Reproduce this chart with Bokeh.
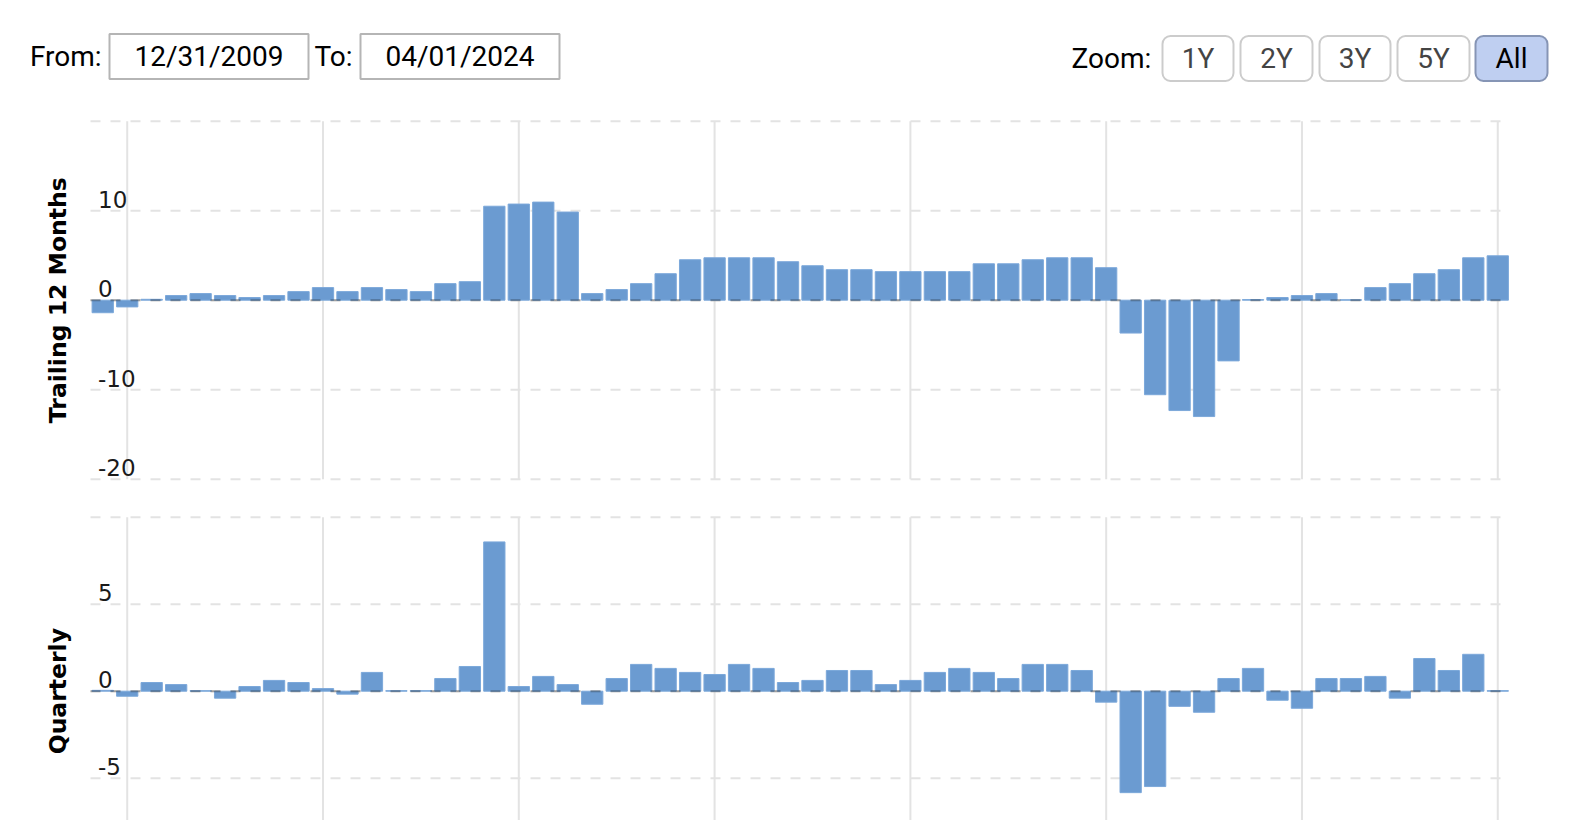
import math
from bokeh.plotting import figure
from bokeh.layouts import column
from bokeh.models import Range1d, ColumnDataSource
from bokeh.core.properties import value
from bokeh.embed import file_html
from bokeh.resources import INLINE

# ---------------- data ----------------
quarters = [
    "2009-12-31",
    "2010-03-31", "2010-06-30", "2010-09-30", "2010-12-31",
    "2011-03-31", "2011-06-30", "2011-09-30", "2011-12-31",
    "2012-03-31", "2012-06-30", "2012-09-30", "2012-12-31",
    "2013-03-31", "2013-06-30", "2013-09-30", "2013-12-31",
    "2014-03-31", "2014-06-30", "2014-09-30", "2014-12-31",
    "2015-03-31", "2015-06-30", "2015-09-30", "2015-12-31",
    "2016-03-31", "2016-06-30", "2016-09-30", "2016-12-31",
    "2017-03-31", "2017-06-30", "2017-09-30", "2017-12-31",
    "2018-03-31", "2018-06-30", "2018-09-30", "2018-12-31",
    "2019-03-31", "2019-06-30", "2019-09-30", "2019-12-31",
    "2020-03-31", "2020-06-30", "2020-09-30", "2020-12-31",
    "2021-03-31", "2021-06-30", "2021-09-30", "2021-12-31",
    "2022-03-31", "2022-06-30", "2022-09-30", "2022-12-31",
    "2023-03-31", "2023-06-30", "2023-09-30", "2023-12-31",
    "2024-03-31",
]

ttm_values = [
    -1.40, -0.75, 0.10, 0.52, 0.74, 0.52, 0.30, 0.52, 0.96, 1.41,
    0.96, 1.41, 1.19, 0.96, 1.85, 2.07, 10.50, 10.74, 10.96, 9.85,
    0.74, 1.19, 1.85, 2.96, 4.52, 4.74, 4.74, 4.74, 4.30, 3.85,
    3.41, 3.41, 3.19, 3.19, 3.19, 3.19, 4.07, 4.07, 4.52, 4.74,
    4.74, 3.63, -3.67, -10.56, -12.33, -13.00, -6.78, 0.07, 0.30, 0.52,
    0.74, 0.05, 1.41, 1.85, 2.96, 3.41, 4.74, 4.96,
]

quarterly_values = [
    0.05, -0.29, 0.50, 0.38, 0.03, -0.40, 0.27, 0.62, 0.50, 0.15,
    -0.17, 1.08, 0.03, 0.03, 0.73, 1.42, 8.58, 0.27, 0.85, 0.38,
    -0.75, 0.73, 1.54, 1.31, 1.08, 0.96, 1.54, 1.31, 0.50, 0.62,
    1.19, 1.19, 0.38, 0.62, 1.08, 1.31, 1.08, 0.73, 1.54, 1.54,
    1.19, -0.63, -5.83, -5.48, -0.87, -1.21, 0.73, 1.31, -0.52, -0.98,
    0.73, 0.73, 0.85, -0.40, 1.88, 1.19, 2.12, 0.03,
]

ttm_ticks = [-20, -10, 0, 10, 20]
ttm_labels = ["-20", "-10", "0", "10"]
q_ticks = [-10, -5, 0, 5, 10]
q_labels = ["-5", "0", "5"]

from_date = "12/31/2009"
to_date = "04/01/2024"
zoom_buttons = ["1Y", "2Y", "3Y", "5Y", "All"]

# ---------------- styles / layout (pixels) ----------------
W = 1580
BAR_FILL = "#6b9bd1"
BAR_LINE = "#7ca8da"
GRID = "#e3e3e3"
LABEL_FONT = "DejaVu Sans"
HEAD_FONT = "Roboto"

PLOT_LEFT = 90.0      # page x of the plot area's left edge
PLOT_W = 1419.5       # plot area width
n = len(quarters)
PITCH = PLOT_W / n
X0 = -0.5 - PLOT_LEFT / PITCH
X1 = X0 + W / PITCH


def px2x(px):
    return X0 + px / PITCH


idx = list(range(n))
x_grid_ticks = [i for i, q in enumerate(quarters) if q.endswith("-03-31") and int(q[:4]) % 2 == 0]

# ---------------- header ----------------
H0 = 100
hdr = figure(width=W, height=H0, x_range=Range1d(0, W), y_range=Range1d(H0, 0),
             toolbar_location=None, output_backend="svg",
             x_axis_location=None, y_axis_location=None, min_border=0)
hdr.grid.visible = False
hdr.outline_line_color = None

hdr.quad(left=[109, 360], right=[308, 559], top=[33.5, 33.5], bottom=[78.5, 78.5],
         fill_color="white", line_color="#b5b5b5", line_width=2)
hdr.text(x=[29.5, 314], y=[56, 56], text=["From:", "To:"], text_font=value(HEAD_FONT),
         text_font_size="28px", text_baseline="middle", text_align="left", text_color="#000000")
hdr.text(x=[208.5, 459.5], y=[56, 56], text=[from_date, to_date], text_font=value(HEAD_FONT),
         text_font_size="28px", text_baseline="middle", text_align="center", text_color="#000000")

btn_left = [1162, 1240, 1319, 1397, 1475]
btn_right = [1233, 1312, 1390, 1469, 1547]
btn_fill = ["white"] * 4 + ["#bfcff1"]
btn_line = ["#cccccc"] * 4 + ["#8695b5"]
btn_text_color = ["#444444"] * 4 + ["#000000"]
hdr.quad(left=btn_left, right=btn_right, top=[35.5] * 5, bottom=[80.5] * 5,
         fill_color=btn_fill, line_color=btn_line, line_width=2, border_radius=8)
hdr.text(x=[(a + b) / 2 for a, b in zip(btn_left, btn_right)], y=[58] * 5, text=zoom_buttons,
         text_font=value(HEAD_FONT), text_font_size="28px", text_baseline="middle",
         text_align="center", text_color=btn_text_color)
hdr.text(x=[1071], y=[58], text=["Zoom:"], text_font=value(HEAD_FONT), text_font_size="28px",
         text_baseline="middle", text_align="left", text_color="#000000")


def panel(values, fig_top, fig_bottom, ymax_px, ymin_px, ymax, ymin, ticks, labels, title):
    ppu = (ymin_px - ymax_px) / (ymax - ymin)
    y_top = ymax + (ymax_px - fig_top) / ppu
    y_bot = ymin - (fig_bottom - ymin_px) / ppu
    p = figure(width=W, height=int(fig_bottom - fig_top),
               x_range=Range1d(X0, X1), y_range=Range1d(y_bot, y_top),
               toolbar_location=None, output_backend="svg",
               x_axis_location=None, y_axis_location=None, min_border=0)
    p.outline_line_color = None
    p.grid.visible = False

    # grid lines limited to the plot area
    p.segment(x0=x_grid_ticks, x1=x_grid_ticks, y0=[ymin] * len(x_grid_ticks),
              y1=[ymax] * len(x_grid_ticks), line_color=GRID, line_width=2)
    p.segment(x0=[-0.5] * len(ticks), x1=[n - 0.5] * len(ticks), y0=ticks, y1=ticks,
              line_color=GRID, line_width=2, line_dash="10 10")

    src = ColumnDataSource(dict(x=idx, top=values, quarter=quarters))
    p.vbar(x="x", top="top", bottom=0, width=0.87, source=src,
           fill_color=BAR_FILL, line_color=BAR_LINE, line_width=1)

    # zero line above the bars
    p.segment(x0=[-0.5], x1=[n - 0.5], y0=[0], y1=[0], line_color="black", line_alpha=0.3,
              line_width=2, line_dash="10 10")

    p.text(x=[px2x(97.5)] * len(labels), y=[float(v) for v in labels], text=labels,
           text_baseline="bottom", text_align="left", y_offset=-3,
           text_font=value(LABEL_FONT), text_font_size="23px", text_color="#1a1a1a")
    p.text(x=[px2x(57.5)], y=[(ymax + ymin) / 2], text=[title], angle=math.pi / 2,
           text_align="center", text_baseline="middle", text_font=value(LABEL_FONT),
           text_font_style="bold", text_font_size="23.5px", text_color="#000000")
    return p


top = panel(ttm_values, 100, 498, 120.7, 478.7, 20, -20, ttm_ticks, ttm_labels,
            "Trailing 12 Months")
bottom = panel(quarterly_values, 498, 820, 516.7, 864.7, 10, -10, q_ticks, q_labels,
               "Quarterly")

layout = column(hdr, top, bottom, spacing=0)
open("out.html", "w").write(file_html(layout, INLINE))
